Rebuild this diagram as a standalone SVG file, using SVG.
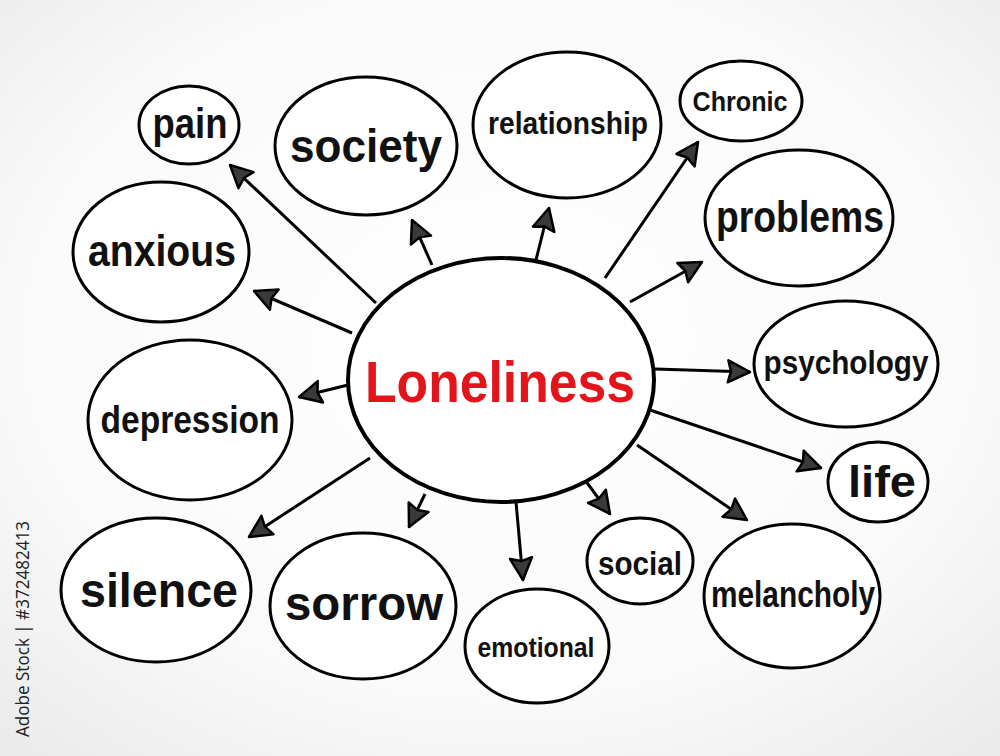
<svg xmlns="http://www.w3.org/2000/svg" width="1000" height="756" viewBox="0 0 1000 756">
<defs>
<radialGradient id="bg" cx="50%" cy="45%" r="72%">
<stop offset="0" stop-color="#ffffff"/>
<stop offset="0.65" stop-color="#fafafa"/>
<stop offset="1" stop-color="#ebebeb"/>
</radialGradient>
<marker id="ah" markerUnits="userSpaceOnUse" markerWidth="30" markerHeight="30" viewBox="-26 -13 30 26" refX="0" refY="0" orient="auto">
<path d="M0,0 L-22,-11 L-19,0 L-22,11 Z" fill="#3a3a3a" stroke="#000" stroke-width="2.5" stroke-linejoin="round"/>
</marker>
<style>
.n ellipse{fill:#fff;stroke:#000;stroke-width:3}
.n text{font-family:"Liberation Sans",Arial,sans-serif;font-weight:700;fill:#111;text-anchor:middle}
#connectors line{stroke:#000;stroke-width:3;marker-end:url(#ah)}
</style>
</defs>
<rect width="1000" height="756" fill="url(#bg)"/>
<g id="connectors">
<line x1="376" y1="303" x2="230" y2="165"/>
<line x1="352" y1="333" x2="254" y2="291"/>
<line x1="348" y1="385" x2="299" y2="397"/>
<line x1="370" y1="458" x2="249" y2="537"/>
<line x1="425" y1="494" x2="409" y2="527"/>
<line x1="516" y1="502" x2="523" y2="580"/>
<line x1="585" y1="480" x2="610" y2="514"/>
<line x1="637" y1="445" x2="747" y2="520"/>
<line x1="650" y1="410" x2="821" y2="468"/>
<line x1="655" y1="369" x2="750" y2="372"/>
<line x1="630" y1="302" x2="702" y2="262"/>
<line x1="605" y1="278" x2="698" y2="142"/>
<line x1="536" y1="260" x2="549" y2="208"/>
<line x1="432" y1="265" x2="412" y2="220"/>
</g>
<g id="center" class="n">
<ellipse cx="501" cy="380" rx="153" ry="122" style="stroke-width:4"/>
<text x="500" y="402" style="font-size:58px;fill:#e3141b" textLength="270" lengthAdjust="spacingAndGlyphs">Loneliness</text>
</g>
<g id="pain" class="n"><ellipse cx="189" cy="125" rx="50" ry="39"/><text x="190" y="138" style="font-size:42px" textLength="75" lengthAdjust="spacingAndGlyphs">pain</text></g>
<g id="society" class="n"><ellipse cx="366" cy="146" rx="91" ry="69"/><text x="366" y="162" style="font-size:46px" textLength="152" lengthAdjust="spacingAndGlyphs">society</text></g>
<g id="relationship" class="n"><ellipse cx="567" cy="125" rx="94" ry="73"/><text x="568" y="134" style="font-size:32px" textLength="160" lengthAdjust="spacingAndGlyphs">relationship</text></g>
<g id="chronic" class="n"><ellipse cx="741" cy="101" rx="61" ry="40"/><text x="740" y="111" style="font-size:28px" textLength="95" lengthAdjust="spacingAndGlyphs">Chronic</text></g>
<g id="problems" class="n"><ellipse cx="799" cy="218" rx="94" ry="68"/><text x="800" y="232" style="font-size:44px" textLength="168" lengthAdjust="spacingAndGlyphs">problems</text></g>
<g id="anxious" class="n"><ellipse cx="161" cy="252" rx="88" ry="70"/><text x="162" y="266" style="font-size:44px" textLength="148" lengthAdjust="spacingAndGlyphs">anxious</text></g>
<g id="depression" class="n"><ellipse cx="190" cy="420" rx="102" ry="80"/><text x="190" y="433" style="font-size:38px" textLength="179" lengthAdjust="spacingAndGlyphs">depression</text></g>
<g id="psychology" class="n"><ellipse cx="846" cy="364" rx="92" ry="63"/><text x="846" y="374" style="font-size:34px" textLength="165" lengthAdjust="spacingAndGlyphs">psychology</text></g>
<g id="life" class="n"><ellipse cx="878" cy="482" rx="50" ry="40"/><text x="882" y="497" style="font-size:44px" textLength="68" lengthAdjust="spacingAndGlyphs">life</text></g>
<g id="silence" class="n"><ellipse cx="156" cy="590" rx="95" ry="72"/><text x="159" y="607" style="font-size:48px" textLength="158" lengthAdjust="spacingAndGlyphs">silence</text></g>
<g id="sorrow" class="n"><ellipse cx="363" cy="606" rx="93" ry="73"/><text x="364" y="620" style="font-size:48px" textLength="158" lengthAdjust="spacingAndGlyphs">sorrow</text></g>
<g id="emotional" class="n"><ellipse cx="537" cy="646" rx="72" ry="57"/><text x="536" y="657" style="font-size:28px" textLength="117" lengthAdjust="spacingAndGlyphs">emotional</text></g>
<g id="social" class="n"><ellipse cx="640" cy="561" rx="53" ry="43"/><text x="640" y="575" style="font-size:34px" textLength="84" lengthAdjust="spacingAndGlyphs">social</text></g>
<g id="melancholy" class="n"><ellipse cx="792" cy="596" rx="88" ry="72"/><text x="793" y="607" style="font-size:36px" textLength="164" lengthAdjust="spacingAndGlyphs">melancholy</text></g>
<text transform="translate(29,737) rotate(-90)" style="font-family:'Open Sans','Liberation Sans',sans-serif;font-size:18px;fill:#222" textLength="216" lengthAdjust="spacingAndGlyphs">Adobe Stock | #372482413</text>
</svg>
